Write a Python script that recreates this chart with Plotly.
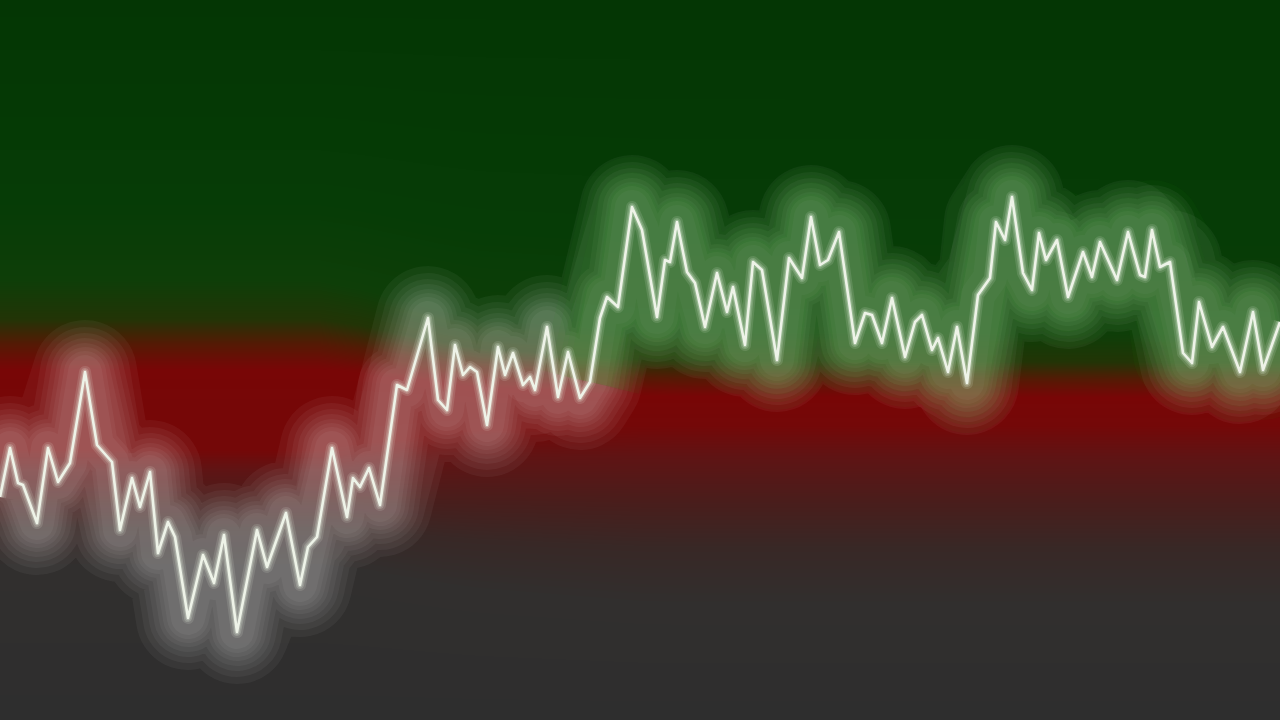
import numpy as np
import plotly.graph_objects as go

# ---- data: horizontal position (time) and level of the glowing line ----
t = [0, 10, 18, 23, 37, 48, 58, 70, 85, 97, 112, 120, 132, 140, 150, 158, 168, 175, 188, 203,
     214, 224, 237, 257, 267, 286, 300, 308, 317, 332, 347, 353, 360, 369, 380, 397, 407, 428, 438, 447,
     455, 463, 470, 477, 487, 498, 505, 513, 523, 530, 535, 547, 558, 568, 580, 590, 600, 607, 618, 632,
     642, 657, 665, 670, 677, 687, 695, 705, 717, 727, 733, 745, 753, 762, 777, 789, 802, 811, 820, 828,
     839, 855, 865, 872, 882, 892, 905, 915, 922, 932, 938, 948, 957, 967, 978, 990, 996, 1005, 1012, 1023,
     1032, 1039, 1046, 1057, 1068, 1083, 1092, 1100, 1117, 1128, 1140, 1145, 1152, 1160, 1170, 1183, 1192, 1199, 1212, 1223,
     1240, 1253, 1263, 1270, 1280]
level = [223, 272, 237, 235, 197, 272, 238, 257, 348, 275, 258, 190, 242, 213, 248, 167, 198, 183, 102, 165,
         137, 185, 88, 190, 153, 207, 135, 173, 183, 272, 203, 242, 233, 252, 215, 335, 330, 402, 320, 310,
         375, 345, 353, 348, 295, 373, 345, 367, 335, 343, 330, 393, 323, 368, 322, 338, 402, 423, 413, 513,
         490, 403, 460, 458, 498, 448, 437, 393, 447, 408, 433, 375, 458, 450, 360, 462, 442, 503, 455, 460,
         488, 377, 407, 405, 377, 422, 363, 398, 405, 370, 382, 348, 393, 337, 425, 442, 498, 480, 523, 447,
         430, 487, 460, 480, 423, 468, 443, 478, 440, 488, 445, 443, 490, 453, 458, 367, 357, 418, 373, 393,
         348, 408, 350, 370, 398]

W, H = 1280, 720

# ---- background: smooth green / red / charcoal bands (style only) ----
gx = np.arange(-40, W + 81, 40)
gy = np.arange(-20, H + 41, 10)
ax_x = [0, 330, 470, 650, 1280]
anch = {
    "gEnd":  [280, 280, 318, 332, 335],
    "rTop":  [368, 368, 385, 395, 397],
    "rBot":  [450, 450, 430, 425, 425],
    "brown": [500, 500, 502, 505, 505],
    "gray":  [565, 565, 590, 605, 605],
}
zst = [0, 0.42, 0.545, 0.585, 0.70, 0.84, 1]
Z = np.zeros((len(gy), len(gx)))
for j, xx in enumerate(gx):
    a = [np.interp(xx, ax_x, anch[k]) for k in ["gEnd", "rTop", "rBot", "brown", "gray"]]
    py = H - gy
    Z[:, j] = np.interp(py, [0] + a + [H], zst)
cs = [
    [0.00, "rgb(4,54,4)"],
    [0.30, "rgb(6,60,6)"],
    [0.42, "rgb(14,62,8)"],
    [0.475, "rgb(34,52,6)"],
    [0.51, "rgb(84,26,5)"],
    [0.545, "rgb(120,6,6)"],
    [0.585, "rgb(116,8,8)"],
    [0.63, "rgb(95,20,20)"],
    [0.70, "rgb(72,30,28)"],
    [0.76, "rgb(56,40,38)"],
    [0.84, "rgb(49,47,46)"],
    [1.00, "rgb(46,46,46)"],
]

fig = go.Figure()
fig.add_trace(go.Heatmap(x=gx, y=gy, z=Z, colorscale=cs, zmin=0, zmax=1,
                         zsmooth="best", showscale=False, hoverinfo="skip"))

# soft white halo along the whole line
for w in [104, 90, 78, 68, 58, 50, 42, 34]:
    fig.add_trace(go.Scatter(x=t, y=level, mode="lines", hoverinfo="skip",
                             line=dict(color="rgba(255,252,248,0.047)", width=w)))
# faint green tint over the right (upper) part of the halo
split = t.index(590)
for w in [100, 84, 70, 58, 46]:
    fig.add_trace(go.Scatter(x=t[split:], y=level[split:], mode="lines", hoverinfo="skip",
                             line=dict(color="rgba(40,150,25,0.05)", width=w)))
# tight halo
for w, a in [(12, 0.12), (8, 0.18), (5, 0.25)]:
    fig.add_trace(go.Scatter(x=t, y=level, mode="lines", hoverinfo="skip",
                             line=dict(color=f"rgba(245,255,240,{a})", width=w)))
# core line
fig.add_trace(go.Scatter(x=t, y=level, mode="lines", hoverinfo="skip",
                         line=dict(color="#eef3e8", width=2.6)))

fig.update_layout(
    width=W, height=H, margin=dict(l=0, r=0, t=0, b=0),
    paper_bgcolor="rgb(46,46,46)", plot_bgcolor="rgb(46,46,46)",
    showlegend=False,
    xaxis=dict(range=[0, W], visible=False, fixedrange=True),
    yaxis=dict(range=[0, H], visible=False, fixedrange=True),
)

fig.write_html(
    "out.html",
    config={"displayModeBar": False, "staticPlot": True},
    post_script=(
        "document.body.style.margin='0';document.body.style.overflow='hidden';"
        "document.querySelectorAll('path.js-line').forEach(function(p){"
        "p.style.strokeLinejoin='round';});"
    ),
)
